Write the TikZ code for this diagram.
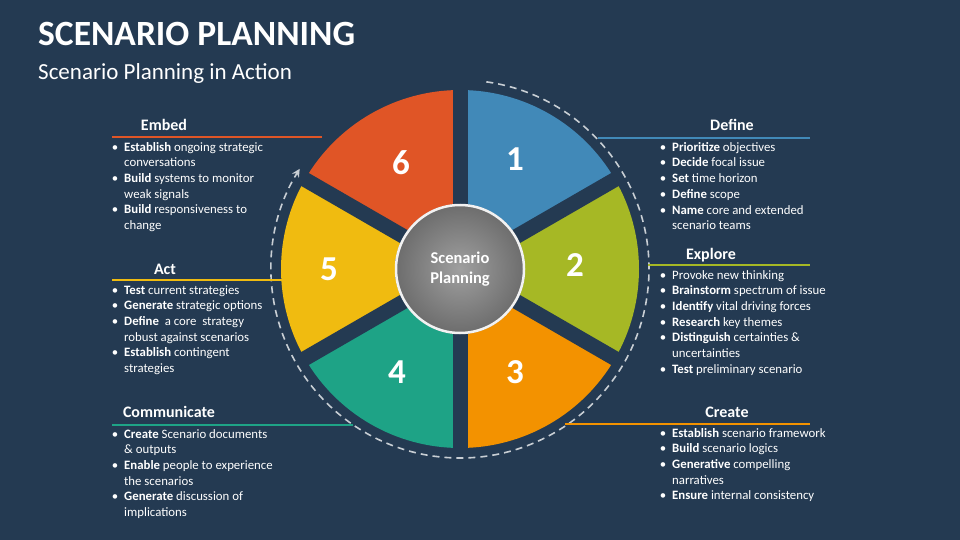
\documentclass[tikz,border=0pt]{standalone}
\usepackage{fontspec}
\setmainfont{Carlito}
\usetikzlibrary{arrows.meta}
\definecolor{bg}{HTML}{243A52}
\definecolor{cA}{HTML}{4189B8}
\definecolor{cB}{HTML}{A6B825}
\definecolor{cC}{HTML}{F39200}
\definecolor{cD}{HTML}{1EA386}
\definecolor{cE}{HTML}{F0BB10}
\definecolor{cF}{HTML}{E05526}
\newcommand{\blist}[2]{\begin{minipage}{#1}\fontsize{12.8}{15.7}\selectfont\begin{list}{\textbullet}{\setlength{\leftmargin}{11pt}\setlength{\labelsep}{6pt}\setlength{\itemsep}{0pt}\setlength{\parsep}{0pt}\setlength{\topsep}{0pt}\setlength{\partopsep}{0pt}}#2\end{list}\end{minipage}}
\begin{document}
\begin{tikzpicture}[x=1pt,y=-1pt,
  head/.style={text=white,font=\bfseries\fontsize{16}{18}\selectfont,anchor=base},
  num/.style={text=white,font=\bfseries\fontsize{35}{35}\selectfont},
  items/.style={text=white,anchor=north west,inner sep=0pt}]
\fill[bg] (0,0) rectangle (960,540);
\useasboundingbox (0,0) rectangle (960,540);
\node[text=white,anchor=base west,inner sep=0pt,font=\bfseries\fontsize{35.5}{36}\selectfont] (title) at (38,46) {SCENARIO PLANNING};
\node[text=white,anchor=base west,inner sep=0pt,font=\fontsize{23}{24}\selectfont] (sub) at (38,80) {Scenario Planning in Action};
% wheel
\begin{scope}[shift={(460,269)},x=1pt,y=1pt]
\foreach \a/\c in {30/cA,-30/cB,-90/cC,-150/cD,150/cE,90/cF}{
  \fill[\c] (0,0) -- (\a:179) arc[start angle=\a,end angle=\a+60,radius=179] -- cycle;}
\foreach \a in {30,90,150,210,270,330}{
  \draw[bg,line width=15pt] (0,0) -- (\a:185);}
\draw[white!75!bg,line width=1.6pt,dash pattern=on 7pt off 5pt,-{Stealth[length=8pt,width=8pt]}] (82:189) arc[start angle=82,end angle=-212,radius=189];
\shade[inner color=gray!75,outer color=gray!85!black] (0,0) circle (65);
\draw[white!90!gray,line width=2.5pt] (0,0) circle (64);
\node[text=white,align=center,font=\bfseries\fontsize{16.5}{20}\selectfont] (ctr) at (0,0) {Scenario\\Planning};
\node[num] (n1) at (55,110) {1};
\node[num] (n2) at (115,4) {2};
\node[num] (n3) at (55,-103) {3};
\node[num] (n4) at (-63,-103) {4};
\node[num] (n5) at (-131,0) {5};
\node[num] (n6) at (-59,106) {6};
\end{scope}
% lines
\draw[cF,line width=1.5pt] (112,137) -- (322,137);
\draw[cE,line width=1.5pt] (112,280) -- (300,280);
\draw[cD,line width=1.5pt] (112,425) -- (353,425);
\draw[cA,line width=1.5pt] (598,138) -- (810,138);
\draw[cB,line width=1.5pt] (648,265) -- (810,265);
\draw[cC,line width=1.5pt] (565,424) -- (810,424);
% headings
\node[head] (hE) at (164,131) {Embed};
\node[head] (hA) at (165,274) {Act};
\node[head] (hC) at (169,417) {Communicate};
\node[head] (hD) at (732,131) {Define};
\node[head] (hX) at (711,259) {Explore};
\node[head] (hR) at (727,417) {Create};
% lists
\node[items] (lE) at (113,142) {\blist{200pt}{\item \textbf{Establish} ongoing strategic\\conversations \item \textbf{Build} systems to monitor\\weak signals \item \textbf{Build} responsiveness to\\change}};
\node[items] (lA) at (113,285) {\blist{200pt}{\item \textbf{Test} current strategies \item \textbf{Generate} strategic options \item \textbf{Define}\ \ a core\ \ strategy\\robust against scenarios \item \textbf{Establish} contingent\\strategies}};
\node[items] (lC) at (113,429) {\blist{200pt}{\item \textbf{Create} Scenario documents\\\& outputs \item \textbf{Enable} people to experience\\the scenarios \item \textbf{Generate} discussion of\\implications}};
\node[items] (lD) at (661,142) {\blist{200pt}{\item \textbf{Prioritize} objectives \item \textbf{Decide} focal issue \item \textbf{Set} time horizon \item \textbf{Define} scope \item \textbf{Name} core and extended\\scenario teams}};
\node[items] (lX) at (661,270) {\blist{200pt}{\item Provoke new thinking \item \textbf{Brainstorm} spectrum of issue \item \textbf{Identify} vital driving forces \item \textbf{Research} key themes \item \textbf{Distinguish} certainties \&\\uncertainties \item \textbf{Test} preliminary scenario}};
\node[items] (lR) at (661,428) {\blist{200pt}{\item \textbf{Establish} scenario framework \item \textbf{Build} scenario logics \item \textbf{Generative} compelling\\narratives \item \textbf{Ensure} internal consistency}};
\end{tikzpicture}
\end{document}
